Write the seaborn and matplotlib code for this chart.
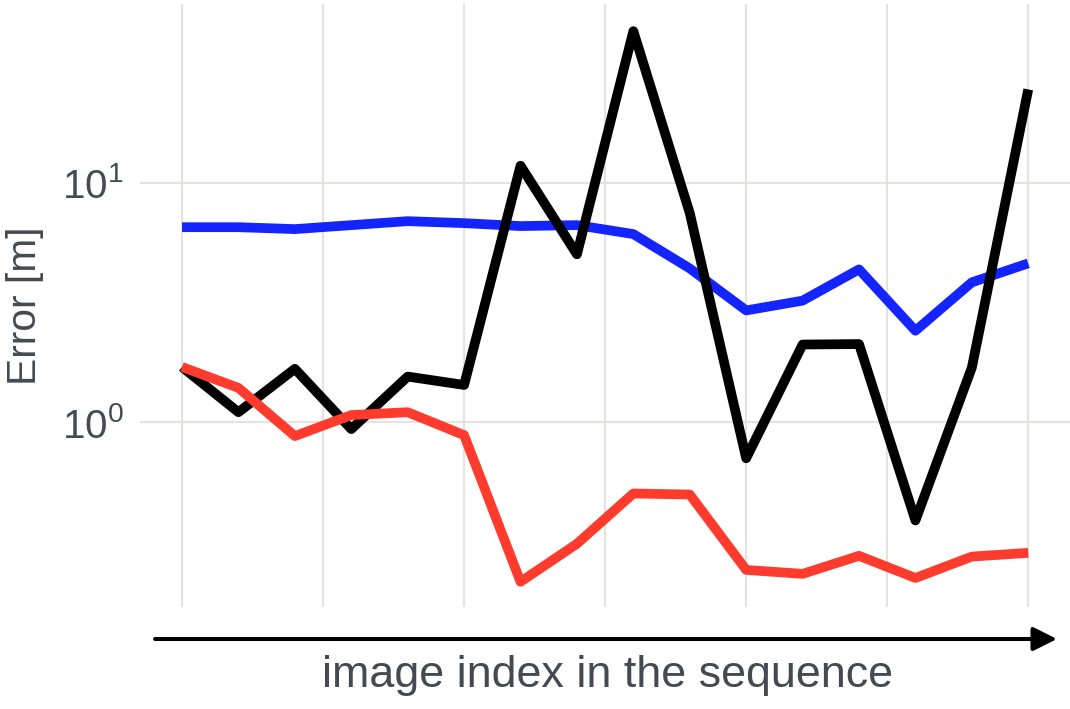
import numpy as np
import pandas as pd
import matplotlib
matplotlib.use("Agg")
import matplotlib.pyplot as plt
import seaborn as sns

# values (log scale, metres)
idx = list(range(16))
err_blue = [6.53, 6.53, 6.41, 6.66, 6.92, 6.79, 6.60, 6.66, 6.11, 4.39, 2.93, 3.22, 4.35, 2.41, 3.84, 4.61]
err_black = [1.70, 1.10, 1.67, 0.935, 1.55, 1.43, 11.8, 5.03, 43.1, 7.48, 0.706, 2.11, 2.12, 0.388, 1.69, 24.6]
err_red = [1.70, 1.39, 0.874, 1.07, 1.10, 0.882, 0.215, 0.310, 0.503, 0.498, 0.241, 0.232, 0.276, 0.223, 0.274, 0.284]

series_names = ["blue", "black", "red"]
colors = {"blue": "#1424ff", "black": "#000000", "red": "#ff3b2d"}

df = pd.DataFrame({
    "idx": idx * 3,
    "err": err_blue + err_black + err_red,
    "series": ["blue"] * 16 + ["black"] * 16 + ["red"] * 16,
})

sns.set_style("white")
plt.rcParams['font.family'] = ['Liberation Sans', 'DejaVu Sans']
txt_col = "#444a52"
grid_col = "#e6e2df"

fig = plt.figure(figsize=(10.7, 7.09), dpi=100)
ax = fig.add_axes([140/1070, 1 - 607/709, 1 - 140/1070, (607 - 4)/709])

sns.lineplot(data=df, x="idx", y="err", hue="series", hue_order=series_names,
             palette=colors, lw=7, legend=False, ax=ax,
             solid_joinstyle="round", solid_capstyle="butt")

ax.set_yscale("log")
ax.set_ylim(10**-0.773, 10**1.748)
ax.set_xlim(-0.745, 15.74)
ax.set_yticks([1, 10])
ax.yaxis.set_minor_locator(matplotlib.ticker.NullLocator())
ax.set_xticks(np.arange(0, 15.1, 2.5))
ax.set_xticklabels([])
ax.grid(True, color=grid_col, lw=1.5)
ax.set_axisbelow(True)
for s in ax.spines.values():
    s.set_visible(False)
ax.tick_params(axis="y", length=0, pad=12, labelsize=29, labelcolor=txt_col)
ax.tick_params(axis="x", length=0)
ax.set_xlabel("")
ax.set_ylabel("")

# arrow + axis titles
ax.annotate("", xy=(1057, 709 - 639), xytext=(155, 709 - 639),
            xycoords="figure pixels", textcoords="figure pixels",
            arrowprops=dict(arrowstyle="-|>", lw=2.9, color="black",
                            mutation_scale=36, shrinkA=0, shrinkB=0))
fig.text(607/1070, 1 - 675/709, "image index in the sequence", ha="center", va="center",
         fontsize=32.3, color=txt_col)
fig.text(25/1070, 1 - 306/709, "Error [m]", ha="center", va="center", rotation=90,
         fontsize=29.3, color=txt_col)

fig.savefig("out.png", dpi=100)
